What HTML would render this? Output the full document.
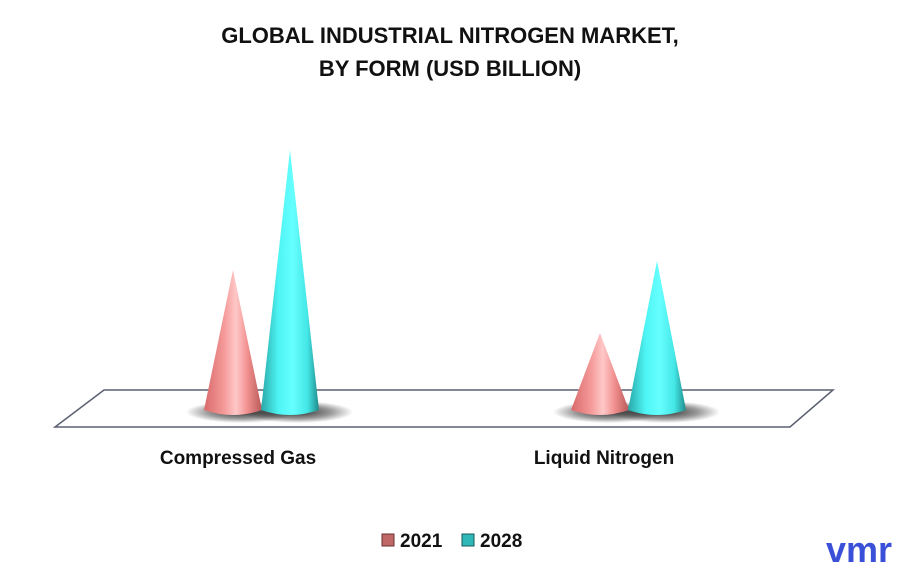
<!DOCTYPE html>
<html><head><meta charset="utf-8"><style>
body{margin:0;background:#fff;}
svg text{font-family:"Liberation Sans",sans-serif;font-weight:bold;fill:#111;}
</style></head><body>
<svg width="900" height="572" viewBox="0 0 900 572">
<defs>
<linearGradient id="gr" x1="0" x2="1" y1="0" y2="0">
<stop offset="0" stop-color="#d96a6a"/><stop offset="0.35" stop-color="#f59a9a"/><stop offset="0.55" stop-color="#ffc8c8"/><stop offset="0.75" stop-color="#f29090"/><stop offset="1" stop-color="#b85858"/></linearGradient>
<linearGradient id="gc" x1="0" x2="1" y1="0" y2="0">
<stop offset="0" stop-color="#2aa8a8"/><stop offset="0.3" stop-color="#4ef4f4"/><stop offset="0.55" stop-color="#66ffff"/><stop offset="0.8" stop-color="#44e6e6"/><stop offset="1" stop-color="#1f8a8a"/></linearGradient>
<radialGradient id="sh"><stop offset="0" stop-color="#000" stop-opacity="0.8"/><stop offset="0.6" stop-color="#000" stop-opacity="0.4"/><stop offset="1" stop-color="#000" stop-opacity="0"/></radialGradient>
</defs>
<text x="450" y="43" text-anchor="middle" font-size="22">GLOBAL INDUSTRIAL NITROGEN MARKET,</text>
<text x="450" y="76" text-anchor="middle" font-size="22">BY FORM (USD BILLION)</text>
<polygon points="104,390 833,390 790,427 55,427" fill="#fff" stroke="#5a6070" stroke-width="1.5"/>
<g id="marks"></g>
<text x="238" y="464" text-anchor="middle" font-size="19">Compressed Gas</text>
<text x="604" y="464" text-anchor="middle" font-size="19">Liquid Nitrogen</text>
<g>
<rect x="382" y="534" width="12" height="12" fill="#c06868" stroke="#6a3030"/>
<text x="400" y="547" font-size="19">2021</text>
<rect x="462" y="534" width="12" height="12" fill="#30b8b8" stroke="#1a5a5a"/>
<text x="480" y="547" font-size="19">2028</text>
</g>
<text x="826" y="562" font-size="36" style="fill:#3b50d8;font-weight:bold">vmr</text>
</svg>
<script>
const categories=["Compressed Gas","Liquid Nitrogen"];
const series2021=[4.8,2.7];
const series2028=[8.8,5.1];
const baseY=414, pxPerUnit=30;
const catX=[233,600], offsets=[0,57];
function yScale(v){return baseY-v*pxPerUnit;}
const g=document.getElementById('marks');
const NS="http://www.w3.org/2000/svg";
[series2021,series2028].forEach((s,si)=>{
 s.forEach((v,ci)=>{
  const cx=catX[ci]+offsets[si], hw=29;
  const sh=document.createElementNS(NS,'ellipse');
  sh.setAttribute('cx',cx+8);sh.setAttribute('cy',baseY-2);sh.setAttribute('rx',hw+26);sh.setAttribute('ry',11);sh.setAttribute('fill','url(#sh)');
  
  
  g.appendChild(sh);
 });
});
[series2021,series2028].forEach((s,si)=>{
 s.forEach((v,ci)=>{
  const cx=catX[ci]+offsets[si], hw=29, ty=yScale(v);
  const p=document.createElementNS(NS,'path');
  p.setAttribute('d',`M${cx},${ty} L${cx+hw},${baseY-4} Q${cx},${baseY+6} ${cx-hw},${baseY-4} Z`);
  p.setAttribute('fill',si==0?'url(#gr)':'url(#gc)');
  
  
  g.appendChild(p);
 });
});
</script>
</body></html>
